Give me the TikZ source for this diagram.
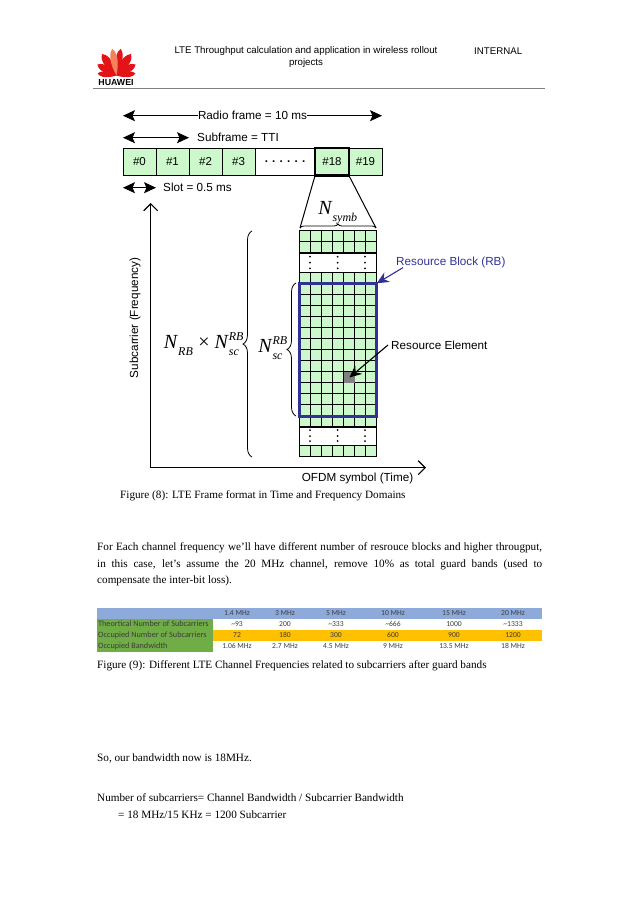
\documentclass[tikz,border=0pt]{standalone}
\usepackage{fontspec}
\setmainfont{Liberation Serif}
\setsansfont{Liberation Sans}
\newfontfamily\carlito{Carlito}
\usetikzlibrary{arrows.meta,positioning,decorations.pathreplacing}
\definecolor{cellgreen}{RGB}{204,248,204}
\definecolor{rbblue}{RGB}{50,50,150}
\definecolor{hdrblue}{RGB}{142,170,219}
\definecolor{rowgreen}{RGB}{112,173,71}
\definecolor{rowgold}{RGB}{255,192,0}
\definecolor{tabtext}{RGB}{60,60,60}
\definecolor{petalred}{RGB}{226,20,24}
\definecolor{petalpale}{RGB}{244,130,90}
\newcommand{\nlabel}[2]{\textit{N}$_{\lower 2pt\hbox{\fontsize{12}{12}\selectfont\itshape #1}}^{\raise 1pt\hbox{\fontsize{12}{12}\selectfont\itshape #2}}$}
\tikzset{
  slotcell/.style={draw,line width=1pt,anchor=north west,inner sep=0pt,outer sep=0pt,minimum height=27.7pt,font=\sffamily\fontsize{11.5}{12}\selectfont},
  bigtip/.style={{Stealth[length=12pt,width=11pt,inset=2.5pt]}-{Stealth[length=12pt,width=11pt,inset=2.5pt]},line width=1pt},
  axisline/.style={-{Straight Barb[length=7pt,width=14pt]},line width=1.1pt},
  curly/.style={decorate,line width=.8pt},
  fig/.style={font=\sffamily\fontsize{11.7}{13}\selectfont,inner sep=0pt},
  body/.style={font=\fontsize{11.2}{16.5}\selectfont,inner sep=0pt,anchor=west},
  head/.style={font=\sffamily\fontsize{9.7}{11.3}\selectfont,inner sep=0pt},
  band/.style={anchor=north west,inner sep=0pt,minimum height=#1,outer sep=0pt},
  tab/.style={font=\carlito\fontsize{7.6}{8}\selectfont,text=tabtext,inner sep=0pt,text height=5pt,text depth=1.5pt},
  tabhead/.style={tab,anchor=west,font=\carlito\fontsize{8.2}{9}\selectfont}
}
\begin{document}
\begin{tikzpicture}[x=1pt,y=-1pt]
\useasboundingbox (0,0) rectangle (638,903);
\begin{scope}[shift={(116.5,75.5)}]
\foreach \ang/\len/\wid/\col in {-84/19/5/petalred,84/19/5/petalred,-60/22/6/petalred,60/22/6/petalred,-34/26/7/petalred,34/26/7/petalred,-9/27/6/petalred,9/27/6/petalpale}
  \fill[\col,rotate=\ang] (0,0) .. controls (-\wid,-.6*\len) and (-.5*\wid,-.9*\len) .. (0,-\len) .. controls (.5*\wid,-.9*\len) and (\wid,-.6*\len) .. (0,0);
\end{scope}
\node[font=\sffamily\bfseries\fontsize{8.8}{9}\selectfont,inner sep=0pt] (logotext) at (116,83) {HUAWEI};
\node[head,align=center] (title) at (306,57) {LTE Throughput calculation and application in wireless rollout\\projects};
\node[head,anchor=west] (internal) at (474,51) {INTERNAL};
\coordinate (ruleL) at (93,88);
\coordinate (ruleR) at (545,88);
\draw[gray,line width=1pt] (ruleL) -- (ruleR);

\coordinate (radioL) at (123,115.7);
\coordinate (radioR) at (382,115.7);
\draw[bigtip] (radioL) -- (radioR) node[midway,fig,fill=white,inner xsep=.5pt] (radio) {Radio frame = 10 ms};
\coordinate (subL) at (123,137.7);
\coordinate (subR) at (189,137.7);
\draw[bigtip] (subL) -- (subR);
\node[fig,anchor=west] (subframe) at (197,137.7) {Subframe = TTI};
\coordinate (slotL) at (123,187.7);
\coordinate (slotR) at (156,187.7);
\draw[bigtip] (slotL) -- (slotR);
\node[fig,anchor=west] (slot) at (163,187.7) {Slot = 0.5 ms};

\foreach \name/\x/\w/\txt in {0/123/33/\#0,1/156/33/\#1,2/189/33/\#2,3/222/33/\#3,19/349/33/\#19}
  \node[slotcell,fill=cellgreen,minimum width=\w pt] (s\name) at (\x,148) {\txt};
\node[slotcell,fill=white,minimum width=60pt] (sdots) at (255,148) {\bfseries . . . . . .};
\node[slotcell,fill=cellgreen,minimum width=34pt,line width=2.8pt] (s18) at (315,148) {\#18};

\coordinate (trapL) at (300,228);
\coordinate (trapR) at (376,228);
\draw[line width=1pt] (s18.south west) -- (trapL);
\draw[line width=1pt] (s18.south east) -- (trapR);
\draw[curly,decoration={brace,amplitude=4pt}] (trapL) -- (trapR);
\node[inner sep=0pt,font=\fontsize{20}{22}\selectfont] (nsymb) at (338,213) {\nlabel{symb}{}};

\foreach \yy in {230.7,241.8,272.3,283.3,294.4,305.4,316.5,327.5,338.6,349.6,360.7,371.7,382.8,393.8,404.9,416,445.5}
  \foreach \cc in {0,...,6}
    \draw[fill=cellgreen,line width=1.1pt] (299.8+11*\cc,\yy) rectangle ++(11,11);
\node[fill=gray,minimum width=11pt,minimum height=11pt,inner sep=0pt,anchor=north west] (re) at (343.8,371.7) {};
\foreach \xx in {310,337.7,365}
  \foreach \yy in {256.7,262.7,268.3,430,436,441}
    \fill (\xx,\yy) circle (1);
\draw[line width=1.1pt] (299.8,253) rectangle (376.8,272.3);
\draw[line width=1.1pt] (299.8,427) rectangle (376.8,445.5);
\node[draw=rbblue,line width=2.8pt,anchor=north west,inner sep=0pt,outer sep=0pt,minimum width=77pt,minimum height=133pt] (rb) at (299.8,283.3) {};

\node[fig,anchor=west,text=rbblue] (rblabel) at (396,262) {Resource Block (RB)};
\draw[rbblue,line width=1.1pt,-{Stealth[length=12pt,width=11pt]}] ([xshift=7pt]rblabel.south west) -- (rb.north east);
\node[fig,anchor=west] (relabel) at (391,345) {Resource Element};
\draw[line width=1.1pt,-{Stealth[length=12pt,width=11pt]}] ([xshift=-3pt]relabel.west) -- (re.center);

\coordinate (origin) at (150.7,467.7);
\coordinate (ytop) at (150.7,203);
\coordinate (xend) at (426,467.7);
\draw[axisline] (origin) -- (ytop);
\draw[axisline] (origin) -- (xend);
\node[fig,rotate=90] (ylabel) at (135,318) {Subcarrier (Frequency)};
\node[fig] (xlabel) at (357.5,478.5) {OFDM symbol (Time)};

\draw[curly,decoration={brace,amplitude=9pt}] (252,457) -- (252,231);
\draw[curly,decoration={brace,amplitude=9pt}] (296,416) -- (296,283);
\node[inner sep=0pt,font=\fontsize{20}{22}\selectfont] (nrb) at (204,344) {\nlabel{RB}{} × \nlabel{sc}{RB}};
\node[inner sep=0pt,font=\fontsize{20}{22}\selectfont] (nsc) at (273,348) {\nlabel{sc}{RB}};

\node[body] (fig8) at (120,496) {Figure (8): LTE Frame format in Time and Frequency Domains};
\node[body,text width=445pt,align=justify,anchor=north west] (para) at (97,542.5) {For Each channel frequency we'll have different number of resrouce blocks and higher througput,\linebreak in this case, let's assume the 20 MHz channel, remove 10\% as total guard bands (used to\linebreak compensate the inter-bit loss).};

\node[band=11.3pt,fill=hdrblue,minimum width=445pt] (hdr) at (96.7,607.7) {};
\node[band=11pt,fill=rowgreen,minimum width=116.3pt] (g1) at (96.7,619) {};
\node[band=11pt,fill=rowgreen,minimum width=116.3pt] (g2) at (96.7,630) {};
\node[band=10.5pt,fill=rowgreen,minimum width=116.3pt] (g3) at (96.7,641) {};
\node[band=11pt,fill=rowgold,minimum width=328.7pt] (gold) at (213,630) {};
\node[tabhead] at (98,624.5) {Theortical Number of Subcarriers};
\node[tabhead] at (98,635.5) {Occupied Number of Subcarriers};
\node[tabhead] at (98,646.3) {Occupied Bandwidth};
\foreach \x/\a/\b/\c/\d in {237/1.4 MHz/\textasciitilde 93/72/1.06 MHz,285/3 MHz/200/180/2.7 MHz,336/5 MHz/\textasciitilde 333/300/4.5 MHz,393/10 MHz/\textasciitilde 666/600/9 MHz,454/15 MHz/1000/900/13.5 MHz,513/20 MHz/\textasciitilde 1333/1200/18 MHz}{
  \node[tab] at (\x,613.5) {\a};
  \node[tab] at (\x,624.5) {\b};
  \node[tab] at (\x,635.5) {\c};
  \node[tab] at (\x,646.3) {\d};
}
\node[body] (fig9) at (97,665.5) {Figure (9): Different LTE Channel Frequencies related to subcarriers after guard bands};
\node[body] (sowe) at (97,758.5) {So, our bandwidth now is 18MHz.};
\node[body] (nsub) at (97,797.5) {Number of subcarriers= Channel Bandwidth / Subcarrier Bandwidth};
\node[body] (nsubb) at (118,814.5) {= 18 MHz/15 KHz = 1200 Subcarrier};
\end{tikzpicture}
\end{document}
